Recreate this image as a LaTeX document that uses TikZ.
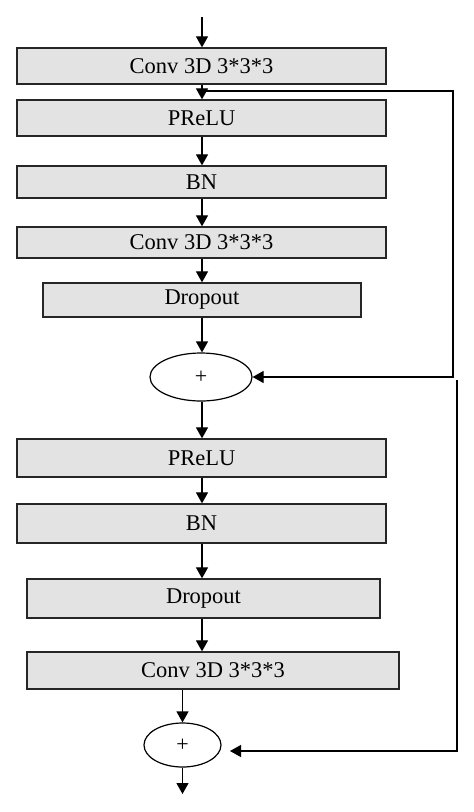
\documentclass[tikz,border=0pt]{standalone}
\usepackage{fontspec}
\setmainfont{Liberation Serif}
\usetikzlibrary{arrows.meta,shapes.geometric,calc}
\begin{document}
\begin{tikzpicture}[x=1pt,y=-1pt,
  box/.style={draw=black!85,line width=1.3pt,fill=black!11,rectangle,inner sep=0pt,font=\fontsize{22.5}{26}\selectfont},
  plus/.style={draw=black,line width=1.2pt,fill=white,ellipse,inner sep=0pt,font=\fontsize{22}{24}\selectfont},
  arr/.style={draw=black,line width=1.2pt,-{Triangle[length=11pt,width=12pt]}},
  ln/.style={draw=black,line width=1.2pt}]
\useasboundingbox[fill=white] (0,0) rectangle (474,812);
\node[box,minimum width=369pt,minimum height=36pt] (conv1) at (201.5,66) {Conv 3D 3*3*3};
\node[box,minimum width=369pt,minimum height=36pt] (prelu1) at (201.5,118) {PReLU};
\node[box,minimum width=369pt,minimum height=32pt] (bn1) at (201.5,182) {BN};
\node[box,minimum width=369pt,minimum height=31pt] (conv2) at (201.5,242.5) {Conv 3D 3*3*3};
\node[box,minimum width=318pt,minimum height=34pt] (drop1) at (202,300) {Dropout};
\node[plus,minimum width=102pt,minimum height=48pt] (plus1) at (201,377) {+};
\node[box,minimum width=369pt,minimum height=38pt] (prelu2) at (201.5,458) {PReLU};
\node[box,minimum width=369pt,minimum height=39pt] (bn2) at (201.5,523.5) {BN};
\node[box,minimum width=353pt,minimum height=39pt] (drop2) at (203.5,598.5) {Dropout};
\node[box,minimum width=372pt,minimum height=37pt] (conv3) at (213,670.5) {Conv 3D 3*3*3};
\node[plus,minimum width=77pt,minimum height=44pt] (plus2) at (182.5,745) {+};
\coordinate (in) at (202,17);
\coordinate (out) at (182.5,794);
\coordinate (s1) at (202,91);
\coordinate (s2) at (457,380);
\coordinate (t2) at (230,751);
% main spine
\draw[arr] (in) -- (in |- conv1.north);
\draw[arr] (in |- conv1.south) -- (in |- prelu1.north);
\draw[arr] (in |- prelu1.south) -- (in |- bn1.north);
\draw[arr] (in |- bn1.south) -- (in |- conv2.north);
\draw[arr] (in |- conv2.south) -- (in |- drop1.north);
\draw[arr] (in |- drop1.south) -- (in |- plus1.north);
\draw[arr] (in |- plus1.south) -- (in |- prelu2.north);
\draw[arr] (in |- prelu2.south) -- (in |- bn2.north);
\draw[arr] (in |- bn2.south) -- (in |- drop2.north);
\draw[arr] (in |- drop2.south) -- (in |- conv3.north);
\draw[arr] (plus2.north |- conv3.south) -- (plus2.north);
\draw[arr] (plus2.south) -- (out);
% skips
\draw[arr] (s1) -- ++(251,0) |- (plus1.east);
\draw[arr] (s2) |- (t2);
\end{tikzpicture}
\end{document}
